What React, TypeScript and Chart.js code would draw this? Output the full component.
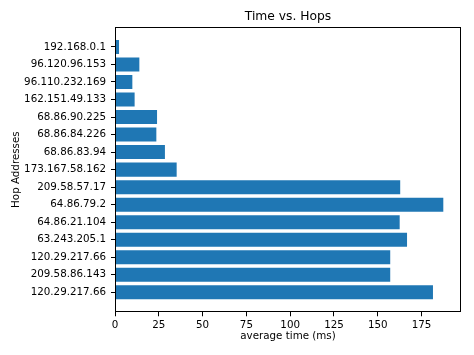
import React, { useEffect, useRef } from "react";
import { Chart, registerables } from "chart.js";

Chart.register(...registerables);

const hopLabels: string[] = [
  "192.168.0.1",
  "96.120.96.153",
  "96.110.232.169",
  "162.151.49.133",
  "68.86.90.225",
  "68.86.84.226",
  "68.86.83.94",
  "173.167.58.162",
  "209.58.57.17",
  "64.86.79.2",
  "64.86.21.104",
  "63.243.205.1",
  "120.29.217.66",
  "209.58.86.143",
  "120.29.217.66",
];

const avgTimes: number[] = [
  2.3, 13.9, 9.9, 11.2, 24.0, 23.6, 28.5, 35.2, 162.8, 187.4, 162.5, 166.7, 157.1, 157.1, 181.5,
];

const xTickValues: number[] = [0, 25, 50, 75, 100, 125, 150, 175];

const FONT = "'DejaVu Sans', sans-serif";

const boxPlugin = {
  id: "axesBox",
  afterDraw(chart: any) {
    const { ctx, chartArea } = chart;
    ctx.save();
    ctx.strokeStyle = "#000";
    ctx.lineWidth = 1;
    const l = Math.round(chartArea.left) + 0.5;
    const t = Math.round(chartArea.top) + 0.5;
    const r = Math.round(chartArea.right) - 0.5;
    const b = Math.round(chartArea.bottom) - 0.5;
    ctx.strokeRect(l, t, r - l, b - t);
    ctx.restore();
  },
};

export default function App() {
  const ref = useRef<HTMLCanvasElement | null>(null);

  useEffect(() => {
    document.body.style.margin = "0";
    const canvas = ref.current;
    if (!canvas) return;
    const chart = new Chart(canvas, {
      type: "bar",
      data: {
        datasets: [
          {
            label: "average time (ms)",
            data: avgTimes.map((v, i) => ({ x: v, y: i })),
            backgroundColor: "#1f77b4",
            borderWidth: 0,
            categoryPercentage: 0.8,
            barPercentage: 1.0,
          },
        ],
      },
      options: {
        indexAxis: "y",
        responsive: false,
        animation: false,
        layout: { padding: { left: 0, right: 13, top: 0, bottom: 12 } },
        plugins: {
          legend: { display: false },
          tooltip: { enabled: false },
          title: {
            display: true,
            text: "Time vs. Hops",
            fullSize: false,
            color: "#000",
            font: { family: FONT, size: 12.3, weight: "normal" },
            padding: { top: 9.6, bottom: 2.6 },
          },
        },
        scales: {
          x: {
            type: "linear",
            min: 0,
            max: 197.5,
            border: { display: false },
            grid: {
              display: true,
              drawOnChartArea: false,
              drawTicks: true,
              tickLength: 4,
              color: "#000",
            },
            ticks: {
              color: "#000",
              padding: 3,
              font: { family: FONT, size: 10.3 },
              maxRotation: 0,
            },
            afterBuildTicks: (scale: any) => {
              scale.ticks = xTickValues.map((v) => ({ value: v }));
            },
            title: {
              display: true,
              text: "average time (ms)",
              color: "#000",
              font: { family: FONT, size: 10.3 },
              padding: { top: -4, bottom: 0 },
            },
          },
          y: {
            type: "linear",
            min: -1.14,
            max: 15.14,
            reverse: true,
            offset: false,
            border: { display: false },
            grid: {
              display: true,
              drawOnChartArea: false,
              drawTicks: true,
              tickLength: 4,
              color: "#000",
              offset: false,
            },
            ticks: {
              color: "#000",
              padding: 5,
              font: { family: FONT, size: 10.3 },
              callback: (value: any) => hopLabels[value as number] ?? "",
            },
            afterBuildTicks: (scale: any) => {
              scale.ticks = hopLabels.map((_, i) => ({ value: i }));
            },
            afterFit: (scale: any) => {
              scale.width = 115;
            },
            title: {
              display: true,
              text: "Hop Addresses",
              color: "#000",
              font: { family: FONT, size: 10.3 },
              padding: { top: 10, bottom: 0 },
            },
          },
        },
      },
      plugins: [boxPlugin],
    });
    return () => chart.destroy();
  }, []);

  return (
    <div style={{ position: "absolute", left: 0, top: 0, width: 474, height: 355 }}>
      <canvas ref={ref} width={474} height={355} style={{ display: "block" }} />
    </div>
  );
}
